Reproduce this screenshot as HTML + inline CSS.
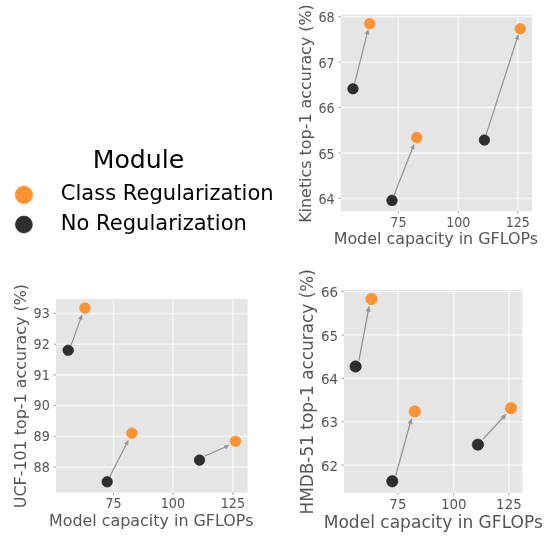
<!DOCTYPE html><html><head><meta charset="utf-8"><title>Module accuracy plots</title><style>html,body{margin:0;padding:0;background:#fff}svg{display:block}</style></head><body><svg width="550" height="539" viewBox="0 0 550 539" font-family='"DejaVu Sans", "Liberation Sans", sans-serif'><rect width="550" height="539" fill="#fff"/><rect x="340.8" y="14.5" width="191.40" height="196.70" fill="#E5E5E5"/><line x1="398.4" y1="14.5" x2="398.4" y2="211.2" stroke="#fff" stroke-opacity="0.62" stroke-width="1.6"/><line x1="398.4" y1="211.2" x2="398.4" y2="213.6" stroke="#888" stroke-width="0.8"/><text transform="translate(398.4,226.5) scale(0.93,1)" font-size="13.7" text-anchor="middle" fill="#555555">75</text><line x1="458.3" y1="14.5" x2="458.3" y2="211.2" stroke="#fff" stroke-opacity="0.62" stroke-width="1.6"/><line x1="458.3" y1="211.2" x2="458.3" y2="213.6" stroke="#888" stroke-width="0.8"/><text transform="translate(458.3,226.5) scale(0.93,1)" font-size="13.7" text-anchor="middle" fill="#555555">100</text><line x1="517.8" y1="14.5" x2="517.8" y2="211.2" stroke="#fff" stroke-opacity="0.62" stroke-width="1.6"/><line x1="517.8" y1="211.2" x2="517.8" y2="213.6" stroke="#888" stroke-width="0.8"/><text transform="translate(517.8,226.5) scale(0.93,1)" font-size="13.7" text-anchor="middle" fill="#555555">125</text><line x1="340.8" y1="16.8" x2="532.2" y2="16.8" stroke="#fff" stroke-opacity="0.62" stroke-width="1.6"/><line x1="338.40000000000003" y1="16.8" x2="340.8" y2="16.8" stroke="#888" stroke-width="0.8"/><text transform="translate(334.6,22.20) scale(0.93,1)" font-size="13.7" text-anchor="end" fill="#555555">68</text><line x1="340.8" y1="62.2" x2="532.2" y2="62.2" stroke="#fff" stroke-opacity="0.62" stroke-width="1.6"/><line x1="338.40000000000003" y1="62.2" x2="340.8" y2="62.2" stroke="#888" stroke-width="0.8"/><text transform="translate(334.6,67.60) scale(0.93,1)" font-size="13.7" text-anchor="end" fill="#555555">67</text><line x1="340.8" y1="107.65" x2="532.2" y2="107.65" stroke="#fff" stroke-opacity="0.62" stroke-width="1.6"/><line x1="338.40000000000003" y1="107.65" x2="340.8" y2="107.65" stroke="#888" stroke-width="0.8"/><text transform="translate(334.6,113.05) scale(0.93,1)" font-size="13.7" text-anchor="end" fill="#555555">66</text><line x1="340.8" y1="153.1" x2="532.2" y2="153.1" stroke="#fff" stroke-opacity="0.62" stroke-width="1.6"/><line x1="338.40000000000003" y1="153.1" x2="340.8" y2="153.1" stroke="#888" stroke-width="0.8"/><text transform="translate(334.6,158.50) scale(0.93,1)" font-size="13.7" text-anchor="end" fill="#555555">65</text><line x1="340.8" y1="198.5" x2="532.2" y2="198.5" stroke="#fff" stroke-opacity="0.62" stroke-width="1.6"/><line x1="338.40000000000003" y1="198.5" x2="340.8" y2="198.5" stroke="#888" stroke-width="0.8"/><text transform="translate(334.6,203.90) scale(0.93,1)" font-size="13.7" text-anchor="end" fill="#555555">64</text><line x1="354.66" y1="83.08" x2="367.06" y2="33.97" stroke="#939393" stroke-width="1.2"/><polygon points="368.16,29.61 368.90,34.43 365.22,33.50" fill="#939393" stroke="#939393" stroke-width="0.5" stroke-linejoin="miter"/><line x1="394.16" y1="194.91" x2="412.41" y2="148.49" stroke="#939393" stroke-width="1.2"/><polygon points="414.06,144.30 414.18,149.18 410.65,147.79" fill="#939393" stroke="#939393" stroke-width="0.5" stroke-linejoin="miter"/><line x1="486.21" y1="134.38" x2="516.92" y2="38.99" stroke="#939393" stroke-width="1.2"/><polygon points="518.30,34.70 518.73,39.57 515.11,38.40" fill="#939393" stroke="#939393" stroke-width="0.5" stroke-linejoin="miter"/><circle cx="353" cy="88.8" r="5.3" fill="#2E2E2E" stroke="#222" stroke-width="0.6"/><circle cx="369.7" cy="23.6" r="5.3" fill="#FC9330" stroke="#F58C2A" stroke-width="0.6"/><circle cx="392.0" cy="200.4" r="5.3" fill="#2E2E2E" stroke="#222" stroke-width="0.6"/><circle cx="416.7" cy="137.6" r="5.3" fill="#FC9330" stroke="#F58C2A" stroke-width="0.6"/><circle cx="484.4" cy="140.0" r="5.3" fill="#2E2E2E" stroke="#222" stroke-width="0.6"/><circle cx="520.2" cy="28.8" r="5.3" fill="#FC9330" stroke="#F58C2A" stroke-width="0.6"/><text transform="translate(435.9,244.2) scale(1.02,1)" font-size="15.6" text-anchor="middle" fill="#555555">Model capacity in GFLOPs</text><text transform="translate(311.0,113.5) rotate(-90) scale(1.053,1)" font-size="15.1" text-anchor="middle" fill="#555555">Kinetics top-1 accuracy (%)</text><rect x="56" y="299" width="191.70" height="193.60" fill="#E5E5E5"/><line x1="113.5" y1="299" x2="113.5" y2="492.6" stroke="#fff" stroke-opacity="0.62" stroke-width="1.6"/><line x1="113.5" y1="492.6" x2="113.5" y2="495.0" stroke="#888" stroke-width="0.8"/><text transform="translate(113.5,507.5) scale(0.93,1)" font-size="13.7" text-anchor="middle" fill="#555555">75</text><line x1="172.9" y1="299" x2="172.9" y2="492.6" stroke="#fff" stroke-opacity="0.62" stroke-width="1.6"/><line x1="172.9" y1="492.6" x2="172.9" y2="495.0" stroke="#888" stroke-width="0.8"/><text transform="translate(172.9,507.5) scale(0.93,1)" font-size="13.7" text-anchor="middle" fill="#555555">100</text><line x1="232.9" y1="299" x2="232.9" y2="492.6" stroke="#fff" stroke-opacity="0.62" stroke-width="1.6"/><line x1="232.9" y1="492.6" x2="232.9" y2="495.0" stroke="#888" stroke-width="0.8"/><text transform="translate(232.9,507.5) scale(0.93,1)" font-size="13.7" text-anchor="middle" fill="#555555">125</text><line x1="56" y1="313.5" x2="247.7" y2="313.5" stroke="#fff" stroke-opacity="0.62" stroke-width="1.6"/><line x1="53.6" y1="313.5" x2="56" y2="313.5" stroke="#888" stroke-width="0.8"/><text transform="translate(49.8,318.20) scale(0.93,1)" font-size="13.7" text-anchor="end" fill="#555555">93</text><line x1="56" y1="344.2" x2="247.7" y2="344.2" stroke="#fff" stroke-opacity="0.62" stroke-width="1.6"/><line x1="53.6" y1="344.2" x2="56" y2="344.2" stroke="#888" stroke-width="0.8"/><text transform="translate(49.8,348.90) scale(0.93,1)" font-size="13.7" text-anchor="end" fill="#555555">92</text><line x1="56" y1="374.9" x2="247.7" y2="374.9" stroke="#fff" stroke-opacity="0.62" stroke-width="1.6"/><line x1="53.6" y1="374.9" x2="56" y2="374.9" stroke="#888" stroke-width="0.8"/><text transform="translate(49.8,379.60) scale(0.93,1)" font-size="13.7" text-anchor="end" fill="#555555">91</text><line x1="56" y1="405.6" x2="247.7" y2="405.6" stroke="#fff" stroke-opacity="0.62" stroke-width="1.6"/><line x1="53.6" y1="405.6" x2="56" y2="405.6" stroke="#888" stroke-width="0.8"/><text transform="translate(49.8,410.30) scale(0.93,1)" font-size="13.7" text-anchor="end" fill="#555555">90</text><line x1="56" y1="436.3" x2="247.7" y2="436.3" stroke="#fff" stroke-opacity="0.62" stroke-width="1.6"/><line x1="53.6" y1="436.3" x2="56" y2="436.3" stroke="#888" stroke-width="0.8"/><text transform="translate(49.8,441.00) scale(0.93,1)" font-size="13.7" text-anchor="end" fill="#555555">89</text><line x1="56" y1="467" x2="247.7" y2="467" stroke="#fff" stroke-opacity="0.62" stroke-width="1.6"/><line x1="53.6" y1="467" x2="56" y2="467" stroke="#888" stroke-width="0.8"/><text transform="translate(49.8,471.70) scale(0.93,1)" font-size="13.7" text-anchor="end" fill="#555555">88</text><line x1="71.28" y1="344.72" x2="80.45" y2="319.10" stroke="#939393" stroke-width="1.2"/><polygon points="81.96,314.86 82.24,319.74 78.66,318.46" fill="#939393" stroke="#939393" stroke-width="0.5" stroke-linejoin="miter"/><line x1="109.87" y1="476.54" x2="126.28" y2="444.24" stroke="#939393" stroke-width="1.2"/><polygon points="128.32,440.23 127.98,445.10 124.59,443.38" fill="#939393" stroke="#939393" stroke-width="0.5" stroke-linejoin="miter"/><line x1="204.72" y1="456.06" x2="224.98" y2="447.27" stroke="#939393" stroke-width="1.2"/><polygon points="229.11,445.48 225.74,449.02 224.23,445.53" fill="#939393" stroke="#939393" stroke-width="0.5" stroke-linejoin="miter"/><circle cx="68.2" cy="350.2" r="5.3" fill="#2E2E2E" stroke="#222" stroke-width="0.6"/><circle cx="84.9" cy="308.1" r="5.3" fill="#FC9330" stroke="#F58C2A" stroke-width="0.6"/><circle cx="107.2" cy="481.8" r="5.3" fill="#2E2E2E" stroke="#222" stroke-width="0.6"/><circle cx="131.9" cy="433.2" r="5.3" fill="#FC9330" stroke="#F58C2A" stroke-width="0.6"/><circle cx="199.5" cy="460.1" r="5.3" fill="#2E2E2E" stroke="#222" stroke-width="0.6"/><circle cx="235.5" cy="441.2" r="5.3" fill="#FC9330" stroke="#F58C2A" stroke-width="0.6"/><text transform="translate(151.2,525.7) scale(1.02,1)" font-size="15.6" text-anchor="middle" fill="#555555">Model capacity in GFLOPs</text><text transform="translate(26.3,396.1) rotate(-90) scale(1.053,1)" font-size="15.1" text-anchor="middle" fill="#555555">UCF-101 top-1 accuracy (%)</text><rect x="344" y="290" width="178.30" height="202.90" fill="#E5E5E5"/><line x1="397.9" y1="290" x2="397.9" y2="492.9" stroke="#fff" stroke-opacity="0.62" stroke-width="1.6"/><line x1="397.9" y1="492.9" x2="397.9" y2="495.29999999999995" stroke="#888" stroke-width="0.8"/><text transform="translate(397.9,509.29999999999995) scale(0.92,1)" font-size="14.6" text-anchor="middle" fill="#555555">75</text><line x1="453.7" y1="290" x2="453.7" y2="492.9" stroke="#fff" stroke-opacity="0.62" stroke-width="1.6"/><line x1="453.7" y1="492.9" x2="453.7" y2="495.29999999999995" stroke="#888" stroke-width="0.8"/><text transform="translate(453.7,509.29999999999995) scale(0.92,1)" font-size="14.6" text-anchor="middle" fill="#555555">100</text><line x1="508.9" y1="290" x2="508.9" y2="492.9" stroke="#fff" stroke-opacity="0.62" stroke-width="1.6"/><line x1="508.9" y1="492.9" x2="508.9" y2="495.29999999999995" stroke="#888" stroke-width="0.8"/><text transform="translate(508.9,509.29999999999995) scale(0.92,1)" font-size="14.6" text-anchor="middle" fill="#555555">125</text><line x1="344" y1="291.7" x2="522.3" y2="291.7" stroke="#fff" stroke-opacity="0.62" stroke-width="1.6"/><line x1="341.6" y1="291.7" x2="344" y2="291.7" stroke="#888" stroke-width="0.8"/><text transform="translate(338.0,297.20) scale(0.92,1)" font-size="14.6" text-anchor="end" fill="#555555">66</text><line x1="344" y1="335" x2="522.3" y2="335" stroke="#fff" stroke-opacity="0.62" stroke-width="1.6"/><line x1="341.6" y1="335" x2="344" y2="335" stroke="#888" stroke-width="0.8"/><text transform="translate(338.0,340.50) scale(0.92,1)" font-size="14.6" text-anchor="end" fill="#555555">65</text><line x1="344" y1="378.4" x2="522.3" y2="378.4" stroke="#fff" stroke-opacity="0.62" stroke-width="1.6"/><line x1="341.6" y1="378.4" x2="344" y2="378.4" stroke="#888" stroke-width="0.8"/><text transform="translate(338.0,383.90) scale(0.92,1)" font-size="14.6" text-anchor="end" fill="#555555">64</text><line x1="344" y1="421.7" x2="522.3" y2="421.7" stroke="#fff" stroke-opacity="0.62" stroke-width="1.6"/><line x1="341.6" y1="421.7" x2="344" y2="421.7" stroke="#888" stroke-width="0.8"/><text transform="translate(338.0,427.20) scale(0.92,1)" font-size="14.6" text-anchor="end" fill="#555555">63</text><line x1="344" y1="465" x2="522.3" y2="465" stroke="#fff" stroke-opacity="0.62" stroke-width="1.6"/><line x1="341.6" y1="465" x2="344" y2="465" stroke="#888" stroke-width="0.8"/><text transform="translate(338.0,470.50) scale(0.92,1)" font-size="14.6" text-anchor="end" fill="#555555">62</text><line x1="358.94" y1="360.37" x2="368.13" y2="311.43" stroke="#939393" stroke-width="1.3"/><polygon points="369.09,306.32 370.29,311.84 365.97,311.03" fill="#939393" stroke="#939393" stroke-width="0.5" stroke-linejoin="miter"/><line x1="395.73" y1="475.30" x2="410.09" y2="423.59" stroke="#939393" stroke-width="1.3"/><polygon points="411.48,418.58 412.21,424.18 407.97,423.00" fill="#939393" stroke="#939393" stroke-width="0.5" stroke-linejoin="miter"/><line x1="483.05" y1="439.15" x2="502.57" y2="418.00" stroke="#939393" stroke-width="1.3"/><polygon points="506.10,414.18 504.19,419.49 500.96,416.50" fill="#939393" stroke="#939393" stroke-width="0.5" stroke-linejoin="miter"/><circle cx="355.6" cy="366.5" r="5.7" fill="#2E2E2E" stroke="#222" stroke-width="0.6"/><circle cx="371.5" cy="299" r="5.7" fill="#FC9330" stroke="#F58C2A" stroke-width="0.6"/><circle cx="392.3" cy="481.3" r="5.7" fill="#2E2E2E" stroke="#222" stroke-width="0.6"/><circle cx="414.8" cy="411.4" r="5.7" fill="#FC9330" stroke="#F58C2A" stroke-width="0.6"/><circle cx="477.9" cy="444.6" r="5.7" fill="#2E2E2E" stroke="#222" stroke-width="0.6"/><circle cx="511.1" cy="408.2" r="5.7" fill="#FC9330" stroke="#F58C2A" stroke-width="0.6"/><text transform="translate(433.25,527.7) scale(1.003,1)" font-size="17.0" text-anchor="middle" fill="#555555">Model capacity in GFLOPs</text><text transform="translate(312.9,391.8) rotate(-90) scale(0.994,1)" font-size="17.0" text-anchor="middle" fill="#555555">HMDB-51 top-1 accuracy (%)</text><text transform="translate(92.7,168.0) scale(1.0,1)" font-size="25.2" fill="#000">Module</text><circle cx="23.9" cy="194.8" r="8.7" fill="#FC9330" stroke="#F58C2A" stroke-width="0.6"/><circle cx="23.9" cy="224.5" r="8.5" fill="#2E2E2E" stroke="#222" stroke-width="0.6"/><text transform="translate(60.8,199.9) scale(1.027,1)" font-size="20.5" fill="#000">Class Regularization</text><text transform="translate(60.8,230.1) scale(1.027,1)" font-size="20.5" fill="#000">No Regularization</text></svg></body></html>
